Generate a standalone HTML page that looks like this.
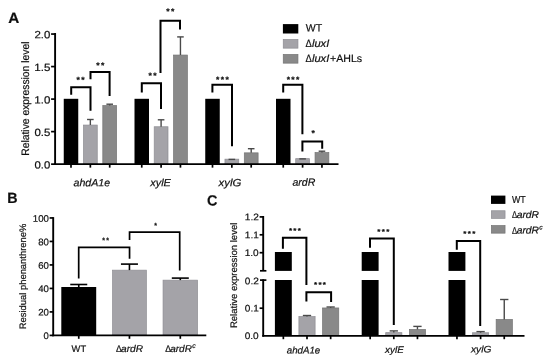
<!DOCTYPE html>
<html><head><meta charset="utf-8"><title>Figure</title>
<style>html,body{margin:0;padding:0;background:#fff}svg{display:block}text{text-rendering:geometricPrecision;stroke:#111;stroke-width:0.2px;font-family:"Liberation Sans",Arial,sans-serif;fill:#111}</style>
</head><body>
<svg width="550" height="364" viewBox="0 0 550 364">
<defs><filter id="soft" x="0" y="0" width="550" height="364" filterUnits="userSpaceOnUse"><feGaussianBlur stdDeviation="0.4"/></filter></defs>
<rect width="550" height="364" fill="#fff"/>
<g filter="url(#soft)">
<text transform="translate(8.29,23.00) rotate(0.03) scale(1.033,1)" font-size="14.8" font-weight="bold">A</text>
<rect x="63.75" y="98.80" width="14.50" height="65.35" fill="#000"/>
<line x1="71.00" y1="164.15" x2="71.00" y2="167.65" stroke="#000" stroke-width="1.7"/>
<rect x="83.45" y="125.05" width="13.80" height="38.75" fill="#a4a3a8" stroke="#8e8d93" stroke-width="0.7"/>
<line x1="90.35" y1="125.00" x2="90.35" y2="119.50" stroke="#4a4a4a" stroke-width="1.4"/>
<line x1="87.05" y1="119.50" x2="93.65" y2="119.50" stroke="#4a4a4a" stroke-width="1.4"/>
<line x1="90.35" y1="164.15" x2="90.35" y2="167.65" stroke="#000" stroke-width="1.7"/>
<rect x="102.80" y="105.55" width="13.80" height="58.25" fill="#898989" stroke="#747474" stroke-width="0.7"/>
<line x1="109.70" y1="105.50" x2="109.70" y2="104.20" stroke="#4a4a4a" stroke-width="1.4"/>
<line x1="106.40" y1="104.20" x2="113.00" y2="104.20" stroke="#4a4a4a" stroke-width="1.4"/>
<line x1="109.70" y1="164.15" x2="109.70" y2="167.65" stroke="#000" stroke-width="1.7"/>
<rect x="134.50" y="98.80" width="14.50" height="65.35" fill="#000"/>
<line x1="141.75" y1="164.15" x2="141.75" y2="167.65" stroke="#000" stroke-width="1.7"/>
<rect x="154.20" y="126.75" width="13.80" height="37.05" fill="#a4a3a8" stroke="#8e8d93" stroke-width="0.7"/>
<line x1="161.10" y1="126.70" x2="161.10" y2="119.80" stroke="#4a4a4a" stroke-width="1.4"/>
<line x1="157.80" y1="119.80" x2="164.40" y2="119.80" stroke="#4a4a4a" stroke-width="1.4"/>
<line x1="161.10" y1="164.15" x2="161.10" y2="167.65" stroke="#000" stroke-width="1.7"/>
<rect x="173.55" y="55.05" width="13.80" height="108.75" fill="#898989" stroke="#747474" stroke-width="0.7"/>
<line x1="180.45" y1="55.00" x2="180.45" y2="36.90" stroke="#4a4a4a" stroke-width="1.4"/>
<line x1="177.15" y1="36.90" x2="183.75" y2="36.90" stroke="#4a4a4a" stroke-width="1.4"/>
<line x1="180.45" y1="164.15" x2="180.45" y2="167.65" stroke="#000" stroke-width="1.7"/>
<rect x="205.25" y="98.80" width="14.50" height="65.35" fill="#000"/>
<line x1="212.50" y1="164.15" x2="212.50" y2="167.65" stroke="#000" stroke-width="1.7"/>
<rect x="224.95" y="159.15" width="13.80" height="4.65" fill="#a4a3a8" stroke="#8e8d93" stroke-width="0.7"/>
<line x1="228.55" y1="159.40" x2="235.15" y2="159.40" stroke="#4a4a4a" stroke-width="1.4"/>
<line x1="231.85" y1="164.15" x2="231.85" y2="167.65" stroke="#000" stroke-width="1.7"/>
<rect x="244.30" y="152.85" width="13.80" height="10.95" fill="#898989" stroke="#747474" stroke-width="0.7"/>
<line x1="251.20" y1="152.80" x2="251.20" y2="148.70" stroke="#4a4a4a" stroke-width="1.4"/>
<line x1="247.90" y1="148.70" x2="254.50" y2="148.70" stroke="#4a4a4a" stroke-width="1.4"/>
<line x1="251.20" y1="164.15" x2="251.20" y2="167.65" stroke="#000" stroke-width="1.7"/>
<rect x="276.00" y="98.80" width="14.50" height="65.35" fill="#000"/>
<line x1="283.25" y1="164.15" x2="283.25" y2="167.65" stroke="#000" stroke-width="1.7"/>
<rect x="295.70" y="158.65" width="13.80" height="5.15" fill="#a4a3a8" stroke="#8e8d93" stroke-width="0.7"/>
<line x1="299.30" y1="158.90" x2="305.90" y2="158.90" stroke="#4a4a4a" stroke-width="1.4"/>
<line x1="302.60" y1="164.15" x2="302.60" y2="167.65" stroke="#000" stroke-width="1.7"/>
<rect x="315.05" y="152.55" width="13.80" height="11.25" fill="#898989" stroke="#747474" stroke-width="0.7"/>
<line x1="321.95" y1="152.50" x2="321.95" y2="151.20" stroke="#4a4a4a" stroke-width="1.4"/>
<line x1="318.65" y1="151.20" x2="325.25" y2="151.20" stroke="#4a4a4a" stroke-width="1.4"/>
<line x1="321.95" y1="164.15" x2="321.95" y2="167.65" stroke="#000" stroke-width="1.7"/>
<line x1="55.10" y1="33.00" x2="55.10" y2="165.00" stroke="#000" stroke-width="1.9"/>
<line x1="54.15" y1="164.15" x2="338.50" y2="164.15" stroke="#000" stroke-width="1.7"/>
<line x1="51.10" y1="164.15" x2="55.10" y2="164.15" stroke="#000" stroke-width="1.7"/>
<text transform="translate(34.53,168.45) rotate(0.03) scale(1.081,1)" font-size="10.5">0.0</text>
<line x1="51.10" y1="131.62" x2="55.10" y2="131.62" stroke="#000" stroke-width="1.7"/>
<text transform="translate(34.53,135.93) rotate(0.03) scale(1.085,1)" font-size="10.5">0.5</text>
<line x1="51.10" y1="99.10" x2="55.10" y2="99.10" stroke="#000" stroke-width="1.7"/>
<text transform="translate(34.27,103.40) rotate(0.03) scale(1.099,1)" font-size="10.5">1.0</text>
<line x1="51.10" y1="66.58" x2="55.10" y2="66.58" stroke="#000" stroke-width="1.7"/>
<text transform="translate(34.27,70.88) rotate(0.03) scale(1.104,1)" font-size="10.5">1.5</text>
<line x1="51.10" y1="34.05" x2="55.10" y2="34.05" stroke="#000" stroke-width="1.7"/>
<text transform="translate(34.43,38.35) rotate(0.03) scale(1.088,1)" font-size="10.5">2.0</text>
<text transform="translate(73.49,186.30) rotate(0.03) scale(1.014,1)" font-size="10.5" font-style="italic">ahdA1e</text>
<text transform="translate(150.19,186.30) rotate(0.03) scale(1.042,1)" font-size="10.5" font-style="italic">xylE</text>
<text transform="translate(218.61,186.30) rotate(0.03) scale(1.080,1)" font-size="10.5" font-style="italic">xylG</text>
<text transform="translate(292.49,185.70) rotate(0.03) scale(1.002,1)" font-size="10.5" font-style="italic">ardR</text>
<text transform="translate(28.50,155.73) rotate(-90) scale(0.956,1)" font-size="10.8">Relative expression level</text>
<path d="M71.20 94.70 V87.20 H90.50 V110.80" fill="none" stroke="#000" stroke-width="2.0" stroke-linejoin="miter"/>
<text transform="translate(81.30,82.73) rotate(0.03)" text-anchor="middle" font-size="8.5" font-weight="bold" letter-spacing="1.4">**</text>
<path d="M90.50 79.20 V72.00 H109.60 V96.00" fill="none" stroke="#000" stroke-width="2.0" stroke-linejoin="miter"/>
<text transform="translate(101.00,68.13) rotate(0.03)" text-anchor="middle" font-size="8.5" font-weight="bold" letter-spacing="1.4">**</text>
<path d="M141.80 92.50 V83.20 H161.00 V109.10" fill="none" stroke="#000" stroke-width="2.0" stroke-linejoin="miter"/>
<text transform="translate(153.30,78.53) rotate(0.03)" text-anchor="middle" font-size="8.5" font-weight="bold" letter-spacing="1.4">**</text>
<path d="M160.50 72.90 V20.70 H180.00 V29.50" fill="none" stroke="#000" stroke-width="2.0" stroke-linejoin="miter"/>
<text transform="translate(171.00,14.13) rotate(0.03)" text-anchor="middle" font-size="8.5" font-weight="bold" letter-spacing="1.4">**</text>
<path d="M212.40 92.50 V84.80 H232.00 V146.30" fill="none" stroke="#000" stroke-width="2.0" stroke-linejoin="miter"/>
<text transform="translate(223.10,82.43) rotate(0.03)" text-anchor="middle" font-size="8.5" font-weight="bold" letter-spacing="1.4">***</text>
<path d="M283.20 92.50 V84.80 H302.40 V134.20" fill="none" stroke="#000" stroke-width="2.0" stroke-linejoin="miter"/>
<text transform="translate(293.70,82.43) rotate(0.03)" text-anchor="middle" font-size="8.5" font-weight="bold" letter-spacing="1.4">***</text>
<path d="M302.40 151.50 V141.40 H322.20 V148.80" fill="none" stroke="#000" stroke-width="2.0" stroke-linejoin="miter"/>
<text transform="translate(313.80,136.03) rotate(0.03)" text-anchor="middle" font-size="8.5" font-weight="bold" letter-spacing="1.4">*</text>
<rect x="282.90" y="24.10" width="15.40" height="9.40" fill="#000"/>
<rect x="283.25" y="39.45" width="14.70" height="8.70" fill="#a4a3a8" stroke="#8e8d93" stroke-width="0.7"/>
<rect x="283.25" y="54.45" width="14.70" height="8.70" fill="#898989" stroke="#747474" stroke-width="0.7"/>
<text transform="translate(305.80,31.40) rotate(0.03) scale(0.996,1)" font-size="10.6">WT</text>
<text transform="translate(305.56,47.00) rotate(0.03) scale(0.890,1)" font-size="10.6">Δ</text>
<text transform="translate(311.93,47.00) rotate(0.03) scale(1.052,1)" font-size="10.6" font-style="italic">luxI</text>
<text transform="translate(305.56,62.10) rotate(0.03) scale(0.890,1)" font-size="10.6">Δ</text>
<text transform="translate(311.93,62.10) rotate(0.03) scale(1.052,1)" font-size="10.6" font-style="italic">luxI</text>
<text transform="translate(330.02,62.10) rotate(0.03) scale(1.001,1)" font-size="10.6">+AHLs</text>
<text transform="translate(7.27,203.00) rotate(0.03) scale(0.967,1)" font-size="14.8" font-weight="bold">B</text>
<rect x="61.30" y="287.00" width="34.90" height="48.40" fill="#000"/>
<line x1="78.75" y1="287.30" x2="78.75" y2="284.50" stroke="#000" stroke-width="1.6"/>
<line x1="70.25" y1="284.50" x2="87.25" y2="284.50" stroke="#000" stroke-width="1.6"/>
<line x1="78.75" y1="335.40" x2="78.75" y2="338.80" stroke="#000" stroke-width="1.7"/>
<rect x="112.55" y="270.15" width="33.80" height="64.90" fill="#a4a3a8" stroke="#8e8d93" stroke-width="0.7"/>
<line x1="129.45" y1="270.10" x2="129.45" y2="264.10" stroke="#000" stroke-width="1.6"/>
<line x1="120.95" y1="264.10" x2="137.95" y2="264.10" stroke="#000" stroke-width="1.6"/>
<line x1="129.45" y1="335.40" x2="129.45" y2="338.80" stroke="#000" stroke-width="1.7"/>
<rect x="163.05" y="280.15" width="34.50" height="54.90" fill="#a4a3a8" stroke="#8e8d93" stroke-width="0.7"/>
<line x1="180.30" y1="280.10" x2="180.30" y2="278.10" stroke="#000" stroke-width="1.6"/>
<line x1="171.80" y1="278.10" x2="188.80" y2="278.10" stroke="#000" stroke-width="1.6"/>
<line x1="180.30" y1="335.40" x2="180.30" y2="338.80" stroke="#000" stroke-width="1.7"/>
<line x1="53.20" y1="217.10" x2="53.20" y2="336.25" stroke="#000" stroke-width="1.9"/>
<line x1="52.25" y1="335.40" x2="206.30" y2="335.40" stroke="#000" stroke-width="1.7"/>
<line x1="49.60" y1="335.40" x2="53.20" y2="335.40" stroke="#000" stroke-width="1.7"/>
<text transform="translate(43.56,339.10) rotate(0.03) scale(1.000,1)" font-size="9.5">0</text>
<line x1="49.60" y1="311.91" x2="53.20" y2="311.91" stroke="#000" stroke-width="1.7"/>
<text transform="translate(38.17,315.61) rotate(0.03) scale(1.010,1)" font-size="9.5">20</text>
<line x1="49.60" y1="288.42" x2="53.20" y2="288.42" stroke="#000" stroke-width="1.7"/>
<text transform="translate(38.17,292.12) rotate(0.03) scale(1.010,1)" font-size="9.5">40</text>
<line x1="49.60" y1="264.93" x2="53.20" y2="264.93" stroke="#000" stroke-width="1.7"/>
<text transform="translate(38.17,268.63) rotate(0.03) scale(1.010,1)" font-size="9.5">60</text>
<line x1="49.60" y1="241.44" x2="53.20" y2="241.44" stroke="#000" stroke-width="1.7"/>
<text transform="translate(38.17,245.14) rotate(0.03) scale(1.010,1)" font-size="9.5">80</text>
<line x1="49.60" y1="217.95" x2="53.20" y2="217.95" stroke="#000" stroke-width="1.7"/>
<text transform="translate(32.78,221.65) rotate(0.03) scale(1.014,1)" font-size="9.5">100</text>
<text transform="translate(26.40,329.25) rotate(-90) scale(1.003,1)" font-size="9.4">Residual phenanthrene%</text>
<text transform="translate(71.60,352.00) rotate(0.03) scale(0.981,1)" font-size="9.5">WT</text>
<text transform="translate(116.08,352.00) rotate(0.03) scale(0.898,1)" font-size="9.6">Δ</text>
<text transform="translate(121.10,352.00) rotate(0.03) scale(1.035,1)" font-size="9.8" font-style="italic">ardR<tspan font-size="0.1" dx="1.8"> </tspan></text>
<text transform="translate(165.18,352.00) rotate(0.03) scale(0.898,1)" font-size="9.6">Δ</text>
<text transform="translate(170.20,352.00) rotate(0.03) scale(1.020,1)" font-size="9.8" font-style="italic">ardR<tspan font-size="6.8" dy="-4.1" dx="0.3">c</tspan></text>
<path d="M78.70 278.60 V247.30 H129.55 V258.80" fill="none" stroke="#000" stroke-width="1.7" stroke-linejoin="miter"/>
<text transform="translate(106.20,242.49) rotate(0.03)" text-anchor="middle" font-size="7" font-weight="bold" letter-spacing="1.2">**</text>
<path d="M129.55 240.00 V232.10 H179.70 V270.50" fill="none" stroke="#000" stroke-width="1.7" stroke-linejoin="miter"/>
<text transform="translate(156.10,227.69) rotate(0.03)" text-anchor="middle" font-size="7" font-weight="bold" letter-spacing="1.2">*</text>
<text transform="translate(207.02,205.40) rotate(0.03) scale(0.980,1)" font-size="14.8" font-weight="bold">C</text>
<rect x="274.90" y="252.00" width="16.90" height="18.90" fill="#000"/>
<rect x="274.90" y="280.00" width="16.90" height="55.80" fill="#000"/>
<line x1="283.35" y1="335.80" x2="283.35" y2="339.20" stroke="#000" stroke-width="1.7"/>
<rect x="298.90" y="316.55" width="16.20" height="18.90" fill="#a4a3a8" stroke="#8e8d93" stroke-width="0.7"/>
<line x1="307.00" y1="316.50" x2="307.00" y2="315.50" stroke="#4a4a4a" stroke-width="1.4"/>
<line x1="302.85" y1="315.50" x2="311.15" y2="315.50" stroke="#4a4a4a" stroke-width="1.4"/>
<line x1="307.00" y1="335.80" x2="307.00" y2="339.20" stroke="#000" stroke-width="1.7"/>
<rect x="322.55" y="307.95" width="16.20" height="27.50" fill="#898989" stroke="#747474" stroke-width="0.7"/>
<line x1="330.65" y1="307.90" x2="330.65" y2="307.00" stroke="#4a4a4a" stroke-width="1.4"/>
<line x1="326.50" y1="307.00" x2="334.80" y2="307.00" stroke="#4a4a4a" stroke-width="1.4"/>
<line x1="330.65" y1="335.80" x2="330.65" y2="339.20" stroke="#000" stroke-width="1.7"/>
<rect x="361.70" y="252.00" width="16.90" height="18.90" fill="#000"/>
<rect x="361.70" y="280.00" width="16.90" height="55.80" fill="#000"/>
<line x1="370.15" y1="335.80" x2="370.15" y2="339.20" stroke="#000" stroke-width="1.7"/>
<rect x="385.70" y="332.65" width="16.20" height="2.80" fill="#a4a3a8" stroke="#8e8d93" stroke-width="0.7"/>
<line x1="393.80" y1="332.60" x2="393.80" y2="330.90" stroke="#4a4a4a" stroke-width="1.4"/>
<line x1="389.65" y1="330.90" x2="397.95" y2="330.90" stroke="#4a4a4a" stroke-width="1.4"/>
<line x1="393.80" y1="335.80" x2="393.80" y2="339.20" stroke="#000" stroke-width="1.7"/>
<rect x="409.35" y="329.45" width="16.20" height="6.00" fill="#898989" stroke="#747474" stroke-width="0.7"/>
<line x1="417.45" y1="329.40" x2="417.45" y2="326.40" stroke="#4a4a4a" stroke-width="1.4"/>
<line x1="413.30" y1="326.40" x2="421.60" y2="326.40" stroke="#4a4a4a" stroke-width="1.4"/>
<line x1="417.45" y1="335.80" x2="417.45" y2="339.20" stroke="#000" stroke-width="1.7"/>
<rect x="448.50" y="252.00" width="16.90" height="18.90" fill="#000"/>
<rect x="448.50" y="280.00" width="16.90" height="55.80" fill="#000"/>
<line x1="456.95" y1="335.80" x2="456.95" y2="339.20" stroke="#000" stroke-width="1.7"/>
<rect x="472.50" y="332.75" width="16.20" height="2.70" fill="#a4a3a8" stroke="#8e8d93" stroke-width="0.7"/>
<line x1="480.60" y1="332.70" x2="480.60" y2="331.60" stroke="#4a4a4a" stroke-width="1.4"/>
<line x1="476.45" y1="331.60" x2="484.75" y2="331.60" stroke="#4a4a4a" stroke-width="1.4"/>
<line x1="480.60" y1="335.80" x2="480.60" y2="339.20" stroke="#000" stroke-width="1.7"/>
<rect x="496.15" y="319.45" width="16.20" height="16.00" fill="#898989" stroke="#747474" stroke-width="0.7"/>
<line x1="504.25" y1="319.40" x2="504.25" y2="299.50" stroke="#4a4a4a" stroke-width="1.4"/>
<line x1="500.10" y1="299.50" x2="508.40" y2="299.50" stroke="#4a4a4a" stroke-width="1.4"/>
<line x1="504.25" y1="335.80" x2="504.25" y2="339.20" stroke="#000" stroke-width="1.7"/>
<line x1="263.20" y1="216.00" x2="263.20" y2="270.80" stroke="#000" stroke-width="1.9"/>
<line x1="260.00" y1="270.80" x2="266.40" y2="270.80" stroke="#000" stroke-width="1.7"/>
<line x1="263.20" y1="279.30" x2="263.20" y2="336.65" stroke="#000" stroke-width="1.9"/>
<line x1="260.00" y1="280.10" x2="266.40" y2="280.10" stroke="#000" stroke-width="1.7"/>
<line x1="262.25" y1="335.80" x2="524.50" y2="335.80" stroke="#000" stroke-width="1.7"/>
<line x1="259.60" y1="216.90" x2="263.20" y2="216.90" stroke="#000" stroke-width="1.7"/>
<text transform="translate(244.79,220.30) rotate(0.03) scale(1.058,1)" font-size="9.5">1.2</text>
<line x1="259.60" y1="234.80" x2="263.20" y2="234.80" stroke="#000" stroke-width="1.7"/>
<text transform="translate(244.79,238.20) rotate(0.03) scale(1.058,1)" font-size="9.5">1.1</text>
<line x1="259.60" y1="252.70" x2="263.20" y2="252.70" stroke="#000" stroke-width="1.7"/>
<text transform="translate(244.70,256.10) rotate(0.03) scale(1.058,1)" font-size="9.5">1.0</text>
<text transform="translate(244.81,284.20) rotate(0.03) scale(1.056,1)" font-size="9.5">0.2</text>
<line x1="259.60" y1="308.20" x2="263.20" y2="308.20" stroke="#000" stroke-width="1.7"/>
<text transform="translate(244.81,311.60) rotate(0.03) scale(1.056,1)" font-size="9.5">0.1</text>
<text transform="translate(244.72,339.00) rotate(0.03) scale(1.056,1)" font-size="9.5">0.0</text>
<text transform="translate(236.90,328.06) rotate(-90) scale(1.003,1)" font-size="9.5">Relative expression level</text>
<text transform="translate(286.81,353.50) rotate(0.03) scale(1.000,1)" font-size="9.7" font-style="italic">ahdA1e</text>
<text transform="translate(385.05,353.00) rotate(0.03) scale(1.022,1)" font-size="9.7" font-style="italic">xylE</text>
<text transform="translate(470.96,352.60) rotate(0.03) scale(1.050,1)" font-size="9.7" font-style="italic">xylG</text>
<path d="M282.90 248.70 V237.80 H306.40 V284.90" fill="none" stroke="#000" stroke-width="2.0" stroke-linejoin="miter"/>
<text transform="translate(295.55,233.58) rotate(0.03)" text-anchor="middle" font-size="8" font-weight="bold" letter-spacing="1.3">***</text>
<path d="M306.40 301.50 V292.20 H331.10 V302.10" fill="none" stroke="#000" stroke-width="2.0" stroke-linejoin="miter"/>
<text transform="translate(320.65,287.38) rotate(0.03)" text-anchor="middle" font-size="8" font-weight="bold" letter-spacing="1.3">***</text>
<path d="M370.00 247.70 V238.40 H393.80 V325.10" fill="none" stroke="#000" stroke-width="2.0" stroke-linejoin="miter"/>
<text transform="translate(383.95,234.58) rotate(0.03)" text-anchor="middle" font-size="8" font-weight="bold" letter-spacing="1.3">***</text>
<path d="M456.80 249.70 V241.00 H480.20 V326.00" fill="none" stroke="#000" stroke-width="2.0" stroke-linejoin="miter"/>
<text transform="translate(469.95,236.38) rotate(0.03)" text-anchor="middle" font-size="8" font-weight="bold" letter-spacing="1.3">***</text>
<rect x="491.00" y="195.60" width="14.40" height="8.30" fill="#000"/>
<rect x="491.35" y="210.75" width="13.70" height="7.60" fill="#a4a3a8" stroke="#8e8d93" stroke-width="0.7"/>
<rect x="491.35" y="225.55" width="13.70" height="7.60" fill="#898989" stroke="#747474" stroke-width="0.7"/>
<text transform="translate(511.90,202.80) rotate(0.03) scale(0.878,1)" font-size="10.1">WT</text>
<text transform="translate(512.11,217.90) rotate(0.03) scale(0.764,1)" font-size="10.0">Δ</text>
<text transform="translate(516.69,217.90) rotate(0.03) scale(1.043,1)" font-size="9.9" font-style="italic">ardR<tspan font-size="0.1" dx="1.8"> </tspan></text>
<text transform="translate(512.11,233.60) rotate(0.03) scale(0.764,1)" font-size="10.0">Δ</text>
<text transform="translate(516.69,233.60) rotate(0.03) scale(1.043,1)" font-size="9.9" font-style="italic">ardR<tspan font-size="6.6" dy="-4.2" dx="0.3">c</tspan></text>
</g>
</svg>
</body></html>
